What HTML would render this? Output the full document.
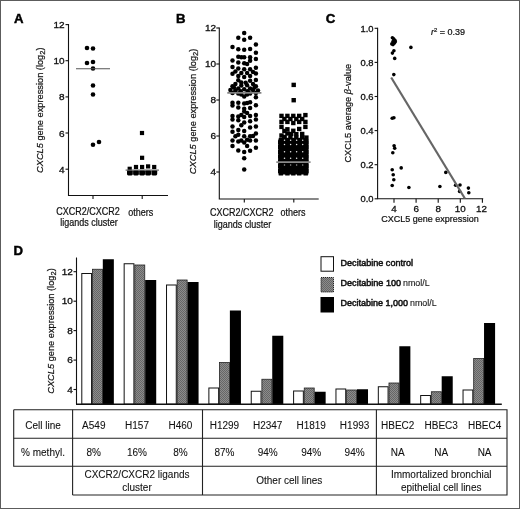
<!DOCTYPE html>
<html><head><meta charset="utf-8"><title>CXCL5 figure</title>
<style>
html,body{margin:0;padding:0;background:#fff;}
body{width:520px;height:509px;overflow:hidden;}
svg{display:block;font-family:"Liberation Sans", Arial, Helvetica, sans-serif;}
text{fill:#111;stroke:#111;stroke-width:0.22px;}
.t9{font-size:9px;}
.lg{font-size:9.1px;}
.t10{font-size:10px;stroke-width:0.08px;}
.t93{font-size:9.3px;}
.t102{font-size:9.8px;}
.t99{font-size:10.3px;}
.tk{font-size:9.1px;stroke-width:0.32px;}
.pl{font-size:13.2px;font-weight:bold;fill:#000;stroke:#000;stroke-width:0.45px;}
.ax{stroke:#111;stroke-width:1.1;fill:none;}
.it{font-style:italic;}
</style></head><body>
<svg width="520" height="509" viewBox="0 0 520 509">
<defs>
<pattern id="stip" width="2" height="2" patternUnits="userSpaceOnUse">
<rect width="2" height="2" fill="#8c8c8c"/><rect width="1" height="1" fill="#666"/><rect x="1" y="1" width="1" height="1" fill="#666"/>
</pattern>
</defs>
<rect x="0" y="0" width="520" height="509" fill="#fff"/>
<rect x="0.5" y="0.5" width="519" height="508" fill="none" stroke="#5c5c5c" stroke-width="1"/>

<text x="13.9" y="22.9" class="pl" text-anchor="start" >A</text>
<path class="ax" d="M68.5,24.060000000000002 V195.5 H168"/>
<path class="ax" d="M65.5,24.6 H68.5"/>
<text transform="translate(64.60,28.16) scale(1.1,1)" class="tk" style="font-size:9.1px" text-anchor="end">12</text>
<path class="ax" d="M65.5,60.7 H68.5"/>
<text transform="translate(64.60,64.32) scale(1.1,1)" class="tk" style="font-size:9.1px" text-anchor="end">10</text>
<path class="ax" d="M65.5,96.9 H68.5"/>
<text transform="translate(64.60,100.48) scale(1.1,1)" class="tk" style="font-size:9.1px" text-anchor="end">8</text>
<path class="ax" d="M65.5,133.0 H68.5"/>
<text transform="translate(64.60,136.64) scale(1.1,1)" class="tk" style="font-size:9.1px" text-anchor="end">6</text>
<path class="ax" d="M65.5,169.2 H68.5"/>
<text transform="translate(64.60,172.80) scale(1.1,1)" class="tk" style="font-size:9.1px" text-anchor="end">4</text>
<path class="ax" d="M93,195.5 v3.5"/>
<path class="ax" d="M142.2,195.5 v3.5"/>
<text transform="translate(43.2,110.2) rotate(-90) scale(0.945,1)" class="t102" text-anchor="middle"><tspan class="it">CXCL5</tspan> gene expression (log<tspan font-size="8" dy="2">2</tspan><tspan dy="-2">)</tspan></text>
<circle cx="87.0" cy="48.0" r="2.3" fill="#000"/>
<circle cx="93.0" cy="48.5" r="2.3" fill="#000"/>
<circle cx="87.0" cy="63.0" r="2.3" fill="#000"/>
<circle cx="93.0" cy="62.0" r="2.3" fill="#000"/>
<circle cx="93.0" cy="68.5" r="2.3" fill="#000"/>
<circle cx="93.0" cy="85.5" r="2.3" fill="#000"/>
<circle cx="93.0" cy="94.5" r="2.3" fill="#000"/>
<circle cx="93.0" cy="144.8" r="2.3" fill="#000"/>
<circle cx="99.0" cy="142.0" r="2.3" fill="#000"/>
<path d="M76,68.75 H110" stroke="#555" stroke-width="1.1"/>
<rect x="139.9" y="130.9" width="4.2" height="4.2" fill="#000"/>
<rect x="140.0" y="155.7" width="4.2" height="4.2" fill="#000"/>
<rect x="133.9" y="164.9" width="4.2" height="4.2" fill="#000"/>
<rect x="140.0" y="164.9" width="4.2" height="4.2" fill="#000"/>
<rect x="146.0" y="164.3" width="4.2" height="4.2" fill="#000"/>
<rect x="152.1" y="164.9" width="4.2" height="4.2" fill="#000"/>
<rect x="127.6" y="166.7" width="4.2" height="4.2" fill="#000"/>
<rect x="127.0" y="170" width="5.8" height="5.4" rx="1.3" fill="#000"/>
<rect x="133.1" y="170" width="5.8" height="5.4" rx="1.3" fill="#000"/>
<rect x="139.2" y="170" width="5.8" height="5.4" rx="1.3" fill="#000"/>
<rect x="145.2" y="170" width="5.8" height="5.4" rx="1.3" fill="#000"/>
<rect x="151.4" y="170" width="5.8" height="5.4" rx="1.3" fill="#000"/>
<path d="M125.6,170.1 H158.9" stroke="#666" stroke-width="1.1"/>
<text transform="translate(88,214.80) scale(0.875,1)" class="t99" style="font-size:10.3px" text-anchor="middle">CXCR2/CXCR2</text>
<text transform="translate(89,226.10) scale(0.875,1)" class="t99" style="font-size:10.3px" text-anchor="middle">ligands cluster</text>
<text transform="translate(140.8,215.70) scale(0.875,1)" class="t99" style="font-size:10.3px" text-anchor="middle">others</text>
<text x="176.1" y="22.6" class="pl" text-anchor="start" >B</text>
<path class="ax" d="M219.3,27.5 V199 H318.7"/>
<path class="ax" d="M216.3,28.0 H219.3"/>
<text transform="translate(216.10,31.40) scale(1.1,1)" class="tk" style="font-size:9.1px" text-anchor="end">12</text>
<path class="ax" d="M216.3,64.0 H219.3"/>
<text transform="translate(216.10,67.40) scale(1.1,1)" class="tk" style="font-size:9.1px" text-anchor="end">10</text>
<path class="ax" d="M216.3,100.0 H219.3"/>
<text transform="translate(216.10,103.40) scale(1.1,1)" class="tk" style="font-size:9.1px" text-anchor="end">8</text>
<path class="ax" d="M216.3,136.0 H219.3"/>
<text transform="translate(216.10,139.40) scale(1.1,1)" class="tk" style="font-size:9.1px" text-anchor="end">6</text>
<path class="ax" d="M216.3,172.0 H219.3"/>
<text transform="translate(216.10,175.40) scale(1.1,1)" class="tk" style="font-size:9.1px" text-anchor="end">4</text>
<path class="ax" d="M244.3,199 v3.5"/>
<path class="ax" d="M293.8,199 v3.5"/>
<text transform="translate(195.7,111.4) rotate(-90) scale(0.945,1)" class="t102" text-anchor="middle"><tspan class="it">CXCL5</tspan> gene expression (log<tspan font-size="8" dy="2">2</tspan><tspan dy="-2">)</tspan></text>
<circle cx="244.2" cy="33.1" r="2.25" fill="#000"/>
<circle cx="238.3" cy="37.8" r="2.25" fill="#000"/>
<circle cx="250.1" cy="37.8" r="2.25" fill="#000"/>
<circle cx="244.2" cy="39.7" r="2.25" fill="#000"/>
<circle cx="255.9" cy="44.5" r="2.25" fill="#000"/>
<circle cx="232.5" cy="47.1" r="2.25" fill="#000"/>
<circle cx="238.3" cy="49.3" r="2.25" fill="#000"/>
<circle cx="244.2" cy="49.8" r="2.25" fill="#000"/>
<circle cx="250.1" cy="48.9" r="2.25" fill="#000"/>
<circle cx="255.9" cy="52.7" r="2.25" fill="#000"/>
<circle cx="238.3" cy="56.7" r="2.25" fill="#000"/>
<circle cx="241.3" cy="57.2" r="2.25" fill="#000"/>
<circle cx="244.2" cy="57.2" r="2.25" fill="#000"/>
<circle cx="250.1" cy="57.2" r="2.25" fill="#000"/>
<circle cx="255.9" cy="58.9" r="2.25" fill="#000"/>
<circle cx="232.5" cy="60.4" r="2.25" fill="#000"/>
<circle cx="250.1" cy="60.7" r="2.25" fill="#000"/>
<circle cx="238.3" cy="62.6" r="2.25" fill="#000"/>
<circle cx="244.2" cy="63.3" r="2.25" fill="#000"/>
<circle cx="247.1" cy="64.1" r="2.25" fill="#000"/>
<circle cx="232.5" cy="67.0" r="2.25" fill="#000"/>
<circle cx="255.9" cy="67.8" r="2.25" fill="#000"/>
<circle cx="238.3" cy="68.5" r="2.25" fill="#000"/>
<circle cx="244.2" cy="69.2" r="2.25" fill="#000"/>
<circle cx="250.1" cy="69.2" r="2.25" fill="#000"/>
<circle cx="235.4" cy="71.5" r="2.25" fill="#000"/>
<circle cx="253.0" cy="71.9" r="2.25" fill="#000"/>
<circle cx="232.5" cy="73.7" r="2.25" fill="#000"/>
<circle cx="241.3" cy="72.9" r="2.25" fill="#000"/>
<circle cx="247.1" cy="72.9" r="2.25" fill="#000"/>
<circle cx="255.9" cy="73.4" r="2.25" fill="#000"/>
<circle cx="238.3" cy="75.9" r="2.25" fill="#000"/>
<circle cx="250.1" cy="75.9" r="2.25" fill="#000"/>
<circle cx="244.2" cy="76.9" r="2.25" fill="#000"/>
<circle cx="238.3" cy="80.3" r="2.25" fill="#000"/>
<circle cx="255.9" cy="79.9" r="2.25" fill="#000"/>
<circle cx="250.1" cy="80.8" r="2.25" fill="#000"/>
<circle cx="241.3" cy="82.5" r="2.25" fill="#000"/>
<circle cx="245.7" cy="82.8" r="2.25" fill="#000"/>
<circle cx="235.4" cy="84.0" r="2.25" fill="#000"/>
<circle cx="253.0" cy="84.0" r="2.25" fill="#000"/>
<circle cx="232.5" cy="86.2" r="2.25" fill="#000"/>
<circle cx="241.3" cy="85.5" r="2.25" fill="#000"/>
<circle cx="255.9" cy="86.2" r="2.25" fill="#000"/>
<circle cx="247.1" cy="85.2" r="2.25" fill="#000"/>
<circle cx="238.3" cy="88.4" r="2.25" fill="#000"/>
<circle cx="244.2" cy="89.2" r="2.25" fill="#000"/>
<circle cx="250.1" cy="88.4" r="2.25" fill="#000"/>
<circle cx="230.4" cy="89.9" r="2.25" fill="#000"/>
<circle cx="235.4" cy="90.6" r="2.25" fill="#000"/>
<circle cx="253.0" cy="89.9" r="2.25" fill="#000"/>
<circle cx="258.0" cy="90.6" r="2.25" fill="#000"/>
<circle cx="232.5" cy="93.1" r="2.25" fill="#000"/>
<circle cx="238.3" cy="93.6" r="2.25" fill="#000"/>
<circle cx="250.1" cy="93.6" r="2.25" fill="#000"/>
<circle cx="255.9" cy="93.1" r="2.25" fill="#000"/>
<circle cx="233.9" cy="87.6" r="2.25" fill="#000"/>
<circle cx="254.5" cy="87.4" r="2.25" fill="#000"/>
<circle cx="240.7" cy="91.3" r="2.25" fill="#000"/>
<circle cx="247.7" cy="91.3" r="2.25" fill="#000"/>
<circle cx="244.2" cy="96.5" r="2.25" fill="#000"/>
<circle cx="255.9" cy="97.3" r="2.25" fill="#000"/>
<circle cx="241.3" cy="94.5" r="2.25" fill="#000"/>
<circle cx="247.1" cy="94.5" r="2.25" fill="#000"/>
<circle cx="232.5" cy="102.7" r="2.25" fill="#000"/>
<circle cx="238.3" cy="102.7" r="2.25" fill="#000"/>
<circle cx="244.2" cy="103.5" r="2.25" fill="#000"/>
<circle cx="247.1" cy="103.0" r="2.25" fill="#000"/>
<circle cx="250.1" cy="102.3" r="2.25" fill="#000"/>
<circle cx="255.9" cy="105.3" r="2.25" fill="#000"/>
<circle cx="232.5" cy="105.5" r="2.25" fill="#000"/>
<circle cx="238.3" cy="107.6" r="2.25" fill="#000"/>
<circle cx="244.2" cy="108.8" r="2.25" fill="#000"/>
<circle cx="250.1" cy="108.0" r="2.25" fill="#000"/>
<circle cx="244.2" cy="111.5" r="2.25" fill="#000"/>
<circle cx="247.1" cy="112.9" r="2.25" fill="#000"/>
<circle cx="232.5" cy="115.9" r="2.25" fill="#000"/>
<circle cx="238.3" cy="116.4" r="2.25" fill="#000"/>
<circle cx="241.3" cy="115.0" r="2.25" fill="#000"/>
<circle cx="244.2" cy="116.9" r="2.25" fill="#000"/>
<circle cx="250.1" cy="115.9" r="2.25" fill="#000"/>
<circle cx="255.9" cy="115.0" r="2.25" fill="#000"/>
<circle cx="232.5" cy="119.4" r="2.25" fill="#000"/>
<circle cx="238.3" cy="120.3" r="2.25" fill="#000"/>
<circle cx="250.1" cy="121.2" r="2.25" fill="#000"/>
<circle cx="255.9" cy="119.4" r="2.25" fill="#000"/>
<circle cx="244.2" cy="122.4" r="2.25" fill="#000"/>
<circle cx="241.3" cy="125.3" r="2.25" fill="#000"/>
<circle cx="232.5" cy="126.5" r="2.25" fill="#000"/>
<circle cx="250.1" cy="127.4" r="2.25" fill="#000"/>
<circle cx="255.9" cy="126.5" r="2.25" fill="#000"/>
<circle cx="238.3" cy="130.0" r="2.25" fill="#000"/>
<circle cx="244.2" cy="130.9" r="2.25" fill="#000"/>
<circle cx="232.5" cy="131.8" r="2.25" fill="#000"/>
<circle cx="255.9" cy="133.6" r="2.25" fill="#000"/>
<circle cx="235.4" cy="136.2" r="2.25" fill="#000"/>
<circle cx="238.3" cy="134.8" r="2.25" fill="#000"/>
<circle cx="244.2" cy="136.2" r="2.25" fill="#000"/>
<circle cx="250.1" cy="136.2" r="2.25" fill="#000"/>
<circle cx="253.0" cy="135.9" r="2.25" fill="#000"/>
<circle cx="232.5" cy="140.6" r="2.25" fill="#000"/>
<circle cx="238.3" cy="141.5" r="2.25" fill="#000"/>
<circle cx="241.3" cy="140.6" r="2.25" fill="#000"/>
<circle cx="244.2" cy="142.4" r="2.25" fill="#000"/>
<circle cx="247.1" cy="139.8" r="2.25" fill="#000"/>
<circle cx="250.1" cy="140.6" r="2.25" fill="#000"/>
<circle cx="255.9" cy="140.6" r="2.25" fill="#000"/>
<circle cx="232.5" cy="145.9" r="2.25" fill="#000"/>
<circle cx="247.1" cy="145.9" r="2.25" fill="#000"/>
<circle cx="255.9" cy="147.7" r="2.25" fill="#000"/>
<circle cx="238.3" cy="150.4" r="2.25" fill="#000"/>
<circle cx="250.1" cy="150.7" r="2.25" fill="#000"/>
<circle cx="244.2" cy="152.1" r="2.25" fill="#000"/>
<circle cx="244.2" cy="158.3" r="2.25" fill="#000"/>
<circle cx="244.2" cy="169.5" r="2.25" fill="#000"/>
<path d="M227.3,92.8 H261.4" stroke="#808080" stroke-width="1.8"/>
<rect x="291.5" y="82.7" width="4.4" height="4.4" fill="#000"/>
<rect x="291.5" y="98.0" width="4.4" height="4.4" fill="#000"/>
<rect x="279.3" y="113.7" width="4.4" height="4.4" fill="#000"/>
<rect x="285.2" y="113.7" width="4.4" height="4.4" fill="#000"/>
<rect x="291.1" y="113.7" width="4.4" height="4.4" fill="#000"/>
<rect x="297.0" y="113.7" width="4.4" height="4.4" fill="#000"/>
<rect x="303.2" y="112.9" width="4.4" height="4.4" fill="#000"/>
<rect x="282.2" y="116.8" width="4.4" height="4.4" fill="#000"/>
<rect x="288.2" y="116.8" width="4.4" height="4.4" fill="#000"/>
<rect x="294.1" y="116.8" width="4.4" height="4.4" fill="#000"/>
<rect x="300.0" y="116.8" width="4.4" height="4.4" fill="#000"/>
<rect x="279.3" y="119.7" width="4.4" height="4.4" fill="#000"/>
<rect x="285.2" y="119.7" width="4.4" height="4.4" fill="#000"/>
<rect x="297.0" y="119.7" width="4.4" height="4.4" fill="#000"/>
<rect x="303.2" y="119.7" width="4.4" height="4.4" fill="#000"/>
<rect x="291.1" y="120.8" width="4.4" height="4.4" fill="#000"/>
<rect x="279.3" y="124.7" width="4.4" height="4.4" fill="#000"/>
<rect x="303.2" y="124.7" width="4.4" height="4.4" fill="#000"/>
<rect x="285.2" y="127.1" width="4.4" height="4.4" fill="#000"/>
<rect x="297.0" y="126.8" width="4.4" height="4.4" fill="#000"/>
<rect x="282.2" y="128.8" width="4.4" height="4.4" fill="#000"/>
<rect x="291.1" y="128.6" width="4.4" height="4.4" fill="#000"/>
<rect x="285.2" y="131.3" width="4.4" height="4.4" fill="#000"/>
<rect x="289.0" y="131.8" width="4.4" height="4.4" fill="#000"/>
<rect x="294.1" y="132.0" width="4.4" height="4.4" fill="#000"/>
<rect x="300.0" y="131.8" width="4.4" height="4.4" fill="#000"/>
<rect x="279.3" y="133.3" width="4.4" height="4.4" fill="#000"/>
<rect x="282.2" y="134.8" width="4.4" height="4.4" fill="#000"/>
<rect x="282.2" y="135.4" width="4.4" height="4.4" fill="#000"/>
<rect x="288.2" y="135.4" width="4.4" height="4.4" fill="#000"/>
<rect x="294.1" y="135.4" width="4.4" height="4.4" fill="#000"/>
<rect x="300.0" y="135.4" width="4.4" height="4.4" fill="#000"/>
<rect x="304.2" y="135.4" width="4.4" height="4.4" fill="#000"/>
<rect x="278.7" y="137.8" width="4.4" height="4.4" fill="#000"/>
<rect x="285.2" y="137.8" width="4.4" height="4.4" fill="#000"/>
<rect x="291.1" y="137.8" width="4.4" height="4.4" fill="#000"/>
<rect x="297.0" y="137.8" width="4.4" height="4.4" fill="#000"/>
<rect x="303.5" y="137.8" width="4.4" height="4.4" fill="#000"/>
<rect x="278.0" y="140.2" width="4.4" height="4.4" fill="#000"/>
<rect x="282.2" y="140.2" width="4.4" height="4.4" fill="#000"/>
<rect x="288.2" y="140.2" width="4.4" height="4.4" fill="#000"/>
<rect x="294.1" y="140.2" width="4.4" height="4.4" fill="#000"/>
<rect x="300.0" y="140.2" width="4.4" height="4.4" fill="#000"/>
<rect x="304.2" y="140.2" width="4.4" height="4.4" fill="#000"/>
<rect x="278.7" y="142.5" width="4.4" height="4.4" fill="#000"/>
<rect x="285.2" y="142.5" width="4.4" height="4.4" fill="#000"/>
<rect x="291.1" y="142.5" width="4.4" height="4.4" fill="#000"/>
<rect x="297.0" y="142.5" width="4.4" height="4.4" fill="#000"/>
<rect x="303.5" y="142.5" width="4.4" height="4.4" fill="#000"/>
<rect x="278.0" y="144.9" width="4.4" height="4.4" fill="#000"/>
<rect x="282.2" y="144.9" width="4.4" height="4.4" fill="#000"/>
<rect x="288.2" y="144.9" width="4.4" height="4.4" fill="#000"/>
<rect x="294.1" y="144.9" width="4.4" height="4.4" fill="#000"/>
<rect x="300.0" y="144.9" width="4.4" height="4.4" fill="#000"/>
<rect x="304.2" y="144.9" width="4.4" height="4.4" fill="#000"/>
<rect x="278.7" y="147.3" width="4.4" height="4.4" fill="#000"/>
<rect x="285.2" y="147.3" width="4.4" height="4.4" fill="#000"/>
<rect x="291.1" y="147.3" width="4.4" height="4.4" fill="#000"/>
<rect x="297.0" y="147.3" width="4.4" height="4.4" fill="#000"/>
<rect x="303.5" y="147.3" width="4.4" height="4.4" fill="#000"/>
<rect x="278.0" y="149.7" width="4.4" height="4.4" fill="#000"/>
<rect x="282.2" y="149.7" width="4.4" height="4.4" fill="#000"/>
<rect x="288.2" y="149.7" width="4.4" height="4.4" fill="#000"/>
<rect x="294.1" y="149.7" width="4.4" height="4.4" fill="#000"/>
<rect x="300.0" y="149.7" width="4.4" height="4.4" fill="#000"/>
<rect x="304.2" y="149.7" width="4.4" height="4.4" fill="#000"/>
<rect x="278.7" y="152.1" width="4.4" height="4.4" fill="#000"/>
<rect x="285.2" y="152.1" width="4.4" height="4.4" fill="#000"/>
<rect x="291.1" y="152.1" width="4.4" height="4.4" fill="#000"/>
<rect x="297.0" y="152.1" width="4.4" height="4.4" fill="#000"/>
<rect x="303.5" y="152.1" width="4.4" height="4.4" fill="#000"/>
<rect x="278.0" y="154.4" width="4.4" height="4.4" fill="#000"/>
<rect x="282.2" y="154.4" width="4.4" height="4.4" fill="#000"/>
<rect x="288.2" y="154.4" width="4.4" height="4.4" fill="#000"/>
<rect x="294.1" y="154.4" width="4.4" height="4.4" fill="#000"/>
<rect x="300.0" y="154.4" width="4.4" height="4.4" fill="#000"/>
<rect x="304.2" y="154.4" width="4.4" height="4.4" fill="#000"/>
<rect x="278.7" y="156.8" width="4.4" height="4.4" fill="#000"/>
<rect x="285.2" y="156.8" width="4.4" height="4.4" fill="#000"/>
<rect x="291.1" y="156.8" width="4.4" height="4.4" fill="#000"/>
<rect x="297.0" y="156.8" width="4.4" height="4.4" fill="#000"/>
<rect x="303.5" y="156.8" width="4.4" height="4.4" fill="#000"/>
<rect x="278.0" y="159.2" width="4.4" height="4.4" fill="#000"/>
<rect x="282.2" y="159.2" width="4.4" height="4.4" fill="#000"/>
<rect x="288.2" y="159.2" width="4.4" height="4.4" fill="#000"/>
<rect x="294.1" y="159.2" width="4.4" height="4.4" fill="#000"/>
<rect x="300.0" y="159.2" width="4.4" height="4.4" fill="#000"/>
<rect x="304.2" y="159.2" width="4.4" height="4.4" fill="#000"/>
<rect x="278.7" y="161.6" width="4.4" height="4.4" fill="#000"/>
<rect x="285.2" y="161.6" width="4.4" height="4.4" fill="#000"/>
<rect x="291.1" y="161.6" width="4.4" height="4.4" fill="#000"/>
<rect x="297.0" y="161.6" width="4.4" height="4.4" fill="#000"/>
<rect x="303.5" y="161.6" width="4.4" height="4.4" fill="#000"/>
<rect x="278.0" y="164.0" width="4.4" height="4.4" fill="#000"/>
<rect x="282.2" y="164.0" width="4.4" height="4.4" fill="#000"/>
<rect x="288.2" y="164.0" width="4.4" height="4.4" fill="#000"/>
<rect x="294.1" y="164.0" width="4.4" height="4.4" fill="#000"/>
<rect x="300.0" y="164.0" width="4.4" height="4.4" fill="#000"/>
<rect x="304.2" y="164.0" width="4.4" height="4.4" fill="#000"/>
<rect x="278.7" y="166.3" width="4.4" height="4.4" fill="#000"/>
<rect x="285.2" y="166.3" width="4.4" height="4.4" fill="#000"/>
<rect x="291.1" y="166.3" width="4.4" height="4.4" fill="#000"/>
<rect x="297.0" y="166.3" width="4.4" height="4.4" fill="#000"/>
<rect x="303.5" y="166.3" width="4.4" height="4.4" fill="#000"/>
<rect x="278.0" y="168.7" width="4.4" height="4.4" fill="#000"/>
<rect x="282.2" y="168.7" width="4.4" height="4.4" fill="#000"/>
<rect x="288.2" y="168.7" width="4.4" height="4.4" fill="#000"/>
<rect x="294.1" y="168.7" width="4.4" height="4.4" fill="#000"/>
<rect x="300.0" y="168.7" width="4.4" height="4.4" fill="#000"/>
<rect x="304.2" y="168.7" width="4.4" height="4.4" fill="#000"/>
<rect x="278.7" y="171.1" width="4.4" height="4.4" fill="#000"/>
<rect x="285.2" y="171.1" width="4.4" height="4.4" fill="#000"/>
<rect x="291.1" y="171.1" width="4.4" height="4.4" fill="#000"/>
<rect x="297.0" y="171.1" width="4.4" height="4.4" fill="#000"/>
<rect x="303.5" y="171.1" width="4.4" height="4.4" fill="#000"/>
<rect x="278.6" y="139" width="29.8" height="35.5" fill="#000"/>
<circle cx="284.5" cy="140.2" r="0.75" fill="#fff" fill-opacity="0.9"/>
<circle cx="290.6" cy="140.2" r="0.75" fill="#fff" fill-opacity="0.9"/>
<circle cx="296.6" cy="140.2" r="0.75" fill="#fff" fill-opacity="0.9"/>
<circle cx="302.7" cy="140.2" r="0.75" fill="#fff" fill-opacity="0.9"/>
<circle cx="284.5" cy="144.6" r="0.75" fill="#fff" fill-opacity="0.9"/>
<circle cx="290.6" cy="144.6" r="0.75" fill="#fff" fill-opacity="0.9"/>
<circle cx="296.6" cy="144.6" r="0.75" fill="#fff" fill-opacity="0.9"/>
<circle cx="302.7" cy="144.6" r="0.75" fill="#fff" fill-opacity="0.9"/>
<circle cx="284.5" cy="151.8" r="0.75" fill="#fff" fill-opacity="0.9"/>
<circle cx="290.6" cy="151.8" r="0.75" fill="#fff" fill-opacity="0.9"/>
<circle cx="296.6" cy="151.8" r="0.75" fill="#fff" fill-opacity="0.9"/>
<circle cx="302.7" cy="151.8" r="0.75" fill="#fff" fill-opacity="0.9"/>
<circle cx="284.5" cy="158.3" r="0.75" fill="#fff" fill-opacity="0.9"/>
<circle cx="290.6" cy="158.3" r="0.75" fill="#fff" fill-opacity="0.9"/>
<circle cx="296.6" cy="158.3" r="0.75" fill="#fff" fill-opacity="0.9"/>
<circle cx="302.7" cy="158.3" r="0.75" fill="#fff" fill-opacity="0.9"/>
<circle cx="284.5" cy="164.9" r="0.75" fill="#fff" fill-opacity="0.6"/>
<circle cx="290.6" cy="164.9" r="0.75" fill="#fff" fill-opacity="0.6"/>
<circle cx="296.6" cy="164.9" r="0.75" fill="#fff" fill-opacity="0.6"/>
<circle cx="302.7" cy="164.9" r="0.75" fill="#fff" fill-opacity="0.6"/>
<path d="M276.3,162.2 H310.6" stroke="#8a8a8a" stroke-width="1.7"/>
<text transform="translate(241.8,216.40) scale(0.875,1)" class="t99" style="font-size:10.3px" text-anchor="middle">CXCR2/CXCR2</text>
<text transform="translate(242.5,227.90) scale(0.875,1)" class="t99" style="font-size:10.3px" text-anchor="middle">ligands cluster</text>
<text transform="translate(293,216.40) scale(0.875,1)" class="t99" style="font-size:10.3px" text-anchor="middle">others</text>
<text x="325.8" y="22.5" class="pl" text-anchor="start" >C</text>
<path class="ax" d="M377.6,27.80000000000001 V198.8 H483.2"/>
<path class="ax" d="M374.6,28.3 H377.6"/>
<text transform="translate(373.60,31.70) scale(1,1)" class="tk" style="font-size:9.4px" text-anchor="end">1.0</text>
<path class="ax" d="M374.6,62.4 H377.6"/>
<text transform="translate(373.60,65.80) scale(1,1)" class="tk" style="font-size:9.4px" text-anchor="end">0.8</text>
<path class="ax" d="M374.6,96.5 H377.6"/>
<text transform="translate(373.60,99.90) scale(1,1)" class="tk" style="font-size:9.4px" text-anchor="end">0.6</text>
<path class="ax" d="M374.6,130.6 H377.6"/>
<text transform="translate(373.60,134.00) scale(1,1)" class="tk" style="font-size:9.4px" text-anchor="end">0.4</text>
<path class="ax" d="M374.6,164.7 H377.6"/>
<text transform="translate(373.60,168.10) scale(1,1)" class="tk" style="font-size:9.4px" text-anchor="end">0.2</text>
<path class="ax" d="M374.6,198.8 H377.6"/>
<text transform="translate(373.60,202.20) scale(1,1)" class="tk" style="font-size:9.4px" text-anchor="end">0.0</text>
<path class="ax" d="M394.0,198.8 v3.9"/>
<text transform="translate(394.00,212.20) scale(1,1)" class="tk" style="font-size:9.8px" text-anchor="middle">4</text>
<path class="ax" d="M416.1,198.8 v3.9"/>
<text transform="translate(416.10,212.20) scale(1,1)" class="tk" style="font-size:9.8px" text-anchor="middle">6</text>
<path class="ax" d="M438.2,198.8 v3.9"/>
<text transform="translate(438.20,212.20) scale(1,1)" class="tk" style="font-size:9.8px" text-anchor="middle">8</text>
<path class="ax" d="M460.3,198.8 v3.9"/>
<text transform="translate(460.30,212.20) scale(1,1)" class="tk" style="font-size:9.8px" text-anchor="middle">10</text>
<path class="ax" d="M482.4,198.8 v3.9"/>
<text transform="translate(481.40,212.20) scale(1,1)" class="tk" style="font-size:9.8px" text-anchor="middle">12</text>
<text transform="translate(430,222.20) scale(0.92,1)" class="t99" style="font-size:9.8px" text-anchor="middle">CXCL5 gene expression</text>
<text transform="translate(351,113.2) rotate(-90) scale(0.945,1)" class="t102" text-anchor="middle">CXCL5 average <tspan class="it">β</tspan>-value</text>
<text x="431" y="35" class="t9" text-anchor="start" ><tspan class="it">r</tspan><tspan font-size="6" dy="-3">2</tspan><tspan dy="3"> = 0.39</tspan></text>
<circle cx="392.4" cy="37.7" r="1.8" fill="#000"/>
<circle cx="393.6" cy="38.8" r="1.8" fill="#000"/>
<circle cx="394.9" cy="40.3" r="1.8" fill="#000"/>
<circle cx="393.0" cy="41.5" r="1.8" fill="#000"/>
<circle cx="395.3" cy="41.8" r="1.8" fill="#000"/>
<circle cx="391.8" cy="43.9" r="1.8" fill="#000"/>
<circle cx="394.2" cy="43.3" r="1.8" fill="#000"/>
<circle cx="393.0" cy="44.6" r="1.8" fill="#000"/>
<circle cx="410.9" cy="47.4" r="1.8" fill="#000"/>
<circle cx="393.9" cy="50.7" r="1.8" fill="#000"/>
<circle cx="392.4" cy="53.1" r="1.8" fill="#000"/>
<circle cx="394.7" cy="58.4" r="1.8" fill="#000"/>
<circle cx="393.8" cy="74.6" r="1.8" fill="#000"/>
<circle cx="392.2" cy="118.2" r="1.8" fill="#000"/>
<circle cx="393.9" cy="117.8" r="1.8" fill="#000"/>
<circle cx="394.1" cy="145.7" r="1.8" fill="#000"/>
<circle cx="394.7" cy="148.2" r="1.8" fill="#000"/>
<circle cx="392.8" cy="152.7" r="1.8" fill="#000"/>
<circle cx="392.2" cy="169.8" r="1.8" fill="#000"/>
<circle cx="401.2" cy="167.9" r="1.8" fill="#000"/>
<circle cx="393.2" cy="174.7" r="1.8" fill="#000"/>
<circle cx="393.8" cy="179.7" r="1.8" fill="#000"/>
<circle cx="392.2" cy="185.5" r="1.8" fill="#000"/>
<circle cx="408.9" cy="187.5" r="1.8" fill="#000"/>
<circle cx="439.9" cy="186.5" r="1.8" fill="#000"/>
<circle cx="445.8" cy="172.4" r="1.8" fill="#000"/>
<circle cx="455.6" cy="185.2" r="1.8" fill="#000"/>
<circle cx="460.0" cy="185.0" r="1.8" fill="#000"/>
<circle cx="459.6" cy="191.4" r="1.8" fill="#000"/>
<circle cx="468.4" cy="188.1" r="1.8" fill="#000"/>
<circle cx="468.8" cy="192.8" r="1.8" fill="#000"/>
<path d="M391.2,77.5 L464.9,198.5" stroke="#666" stroke-width="2.2"/>
<text x="13.5" y="254.6" class="pl" text-anchor="start" >D</text>
<path class="ax" d="M76.5,257.5 V404.2"/>
<path class="ax" d="M73.5,271.7 H76.5"/>
<text transform="translate(72.90,275.04) scale(1.1,1)" class="tk" style="font-size:9.1px" text-anchor="end">12</text>
<path class="ax" d="M73.5,301.2 H76.5"/>
<text transform="translate(72.90,304.48) scale(1.1,1)" class="tk" style="font-size:9.1px" text-anchor="end">10</text>
<path class="ax" d="M73.5,330.6 H76.5"/>
<text transform="translate(72.90,333.92) scale(1.1,1)" class="tk" style="font-size:9.1px" text-anchor="end">8</text>
<path class="ax" d="M73.5,360.1 H76.5"/>
<text transform="translate(72.90,363.36) scale(1.1,1)" class="tk" style="font-size:9.1px" text-anchor="end">6</text>
<path class="ax" d="M73.5,389.5 H76.5"/>
<text transform="translate(72.90,392.80) scale(1.1,1)" class="tk" style="font-size:9.1px" text-anchor="end">4</text>
<text transform="translate(53.9,331) rotate(-90) scale(0.945,1)" class="t102" text-anchor="middle"><tspan class="it">CXCL5</tspan> gene expression (log<tspan font-size="8" dy="2">2</tspan><tspan dy="-2">)</tspan></text>
<rect x="81.80" y="273.50" width="9.75" height="130.70" fill="#fff" stroke="#111" stroke-width="1"/>
<rect x="92.45" y="269.25" width="9.95" height="134.95" fill="url(#stip)" stroke="#222" stroke-width="0.8"/>
<rect x="102.80" y="259.25" width="11.05" height="144.95" fill="#000"/>
<rect x="124.16" y="263.75" width="9.75" height="140.45" fill="#fff" stroke="#111" stroke-width="1"/>
<rect x="134.81" y="265.00" width="9.95" height="139.20" fill="url(#stip)" stroke="#222" stroke-width="0.8"/>
<rect x="145.16" y="280.00" width="11.05" height="124.20" fill="#000"/>
<rect x="166.52" y="285.00" width="9.75" height="119.20" fill="#fff" stroke="#111" stroke-width="1"/>
<rect x="177.17" y="280.00" width="9.95" height="124.20" fill="url(#stip)" stroke="#222" stroke-width="0.8"/>
<rect x="187.52" y="282.00" width="11.05" height="122.20" fill="#000"/>
<rect x="208.88" y="388.00" width="9.75" height="16.20" fill="#fff" stroke="#111" stroke-width="1"/>
<rect x="219.53" y="362.50" width="9.95" height="41.70" fill="url(#stip)" stroke="#222" stroke-width="0.8"/>
<rect x="229.88" y="310.50" width="11.05" height="93.70" fill="#000"/>
<rect x="251.24" y="391.25" width="9.75" height="12.95" fill="#fff" stroke="#111" stroke-width="1"/>
<rect x="261.89" y="379.25" width="9.95" height="24.95" fill="url(#stip)" stroke="#222" stroke-width="0.8"/>
<rect x="272.24" y="335.75" width="11.05" height="68.45" fill="#000"/>
<rect x="293.60" y="391.00" width="9.75" height="13.20" fill="#fff" stroke="#111" stroke-width="1"/>
<rect x="304.25" y="388.00" width="9.95" height="16.20" fill="url(#stip)" stroke="#222" stroke-width="0.8"/>
<rect x="314.60" y="391.75" width="11.05" height="12.45" fill="#000"/>
<rect x="335.96" y="389.00" width="9.75" height="15.20" fill="#fff" stroke="#111" stroke-width="1"/>
<rect x="346.61" y="390.00" width="9.95" height="14.20" fill="url(#stip)" stroke="#222" stroke-width="0.8"/>
<rect x="356.96" y="389.25" width="11.05" height="14.95" fill="#000"/>
<rect x="378.32" y="386.75" width="9.75" height="17.45" fill="#fff" stroke="#111" stroke-width="1"/>
<rect x="388.97" y="383.00" width="9.95" height="21.20" fill="url(#stip)" stroke="#222" stroke-width="0.8"/>
<rect x="399.32" y="346.25" width="11.05" height="57.95" fill="#000"/>
<rect x="420.68" y="395.50" width="9.75" height="8.70" fill="#fff" stroke="#111" stroke-width="1"/>
<rect x="431.33" y="391.75" width="9.95" height="12.45" fill="url(#stip)" stroke="#222" stroke-width="0.8"/>
<rect x="441.68" y="376.25" width="11.05" height="27.95" fill="#000"/>
<rect x="463.04" y="390.00" width="9.75" height="14.20" fill="#fff" stroke="#111" stroke-width="1"/>
<rect x="473.69" y="358.50" width="9.95" height="45.70" fill="url(#stip)" stroke="#222" stroke-width="0.8"/>
<rect x="484.04" y="323.00" width="11.05" height="81.20" fill="#000"/>
<path d="M76.0,404.2 H501.8" stroke="#111" stroke-width="1.5" fill="none"/>
<rect x="321" y="256.7" width="12.5" height="14.5" fill="#fff" stroke="#111" stroke-width="1"/>
<rect x="321" y="277.5" width="12.5" height="14.5" fill="url(#stip)" stroke="#222" stroke-width="1" stroke-dasharray="1.2,0.8"/>
<rect x="320.5" y="297" width="13.5" height="15.5" fill="#000"/>
<text x="340.5" y="265.8" style="font-size:9px;stroke:#111;stroke-width:0.5px" textLength="72.6" lengthAdjust="spacingAndGlyphs">Decitabine control</text>
<text x="340.5" y="285.8" style="font-size:9px;stroke:#111;stroke-width:0.5px" textLength="60.6" lengthAdjust="spacingAndGlyphs">Decitabine 100</text>
<text x="340.5" y="305.9" style="font-size:9px;stroke:#111;stroke-width:0.5px" textLength="67.6" lengthAdjust="spacingAndGlyphs">Decitabine 1,000</text>
<text x="403" y="285.8" style="font-size:8.9px;stroke-width:0.1px">nmol/L</text>
<text x="410" y="305.9" style="font-size:8.9px;stroke-width:0.1px">nmol/L</text>
<g stroke="#222" stroke-width="1.1" fill="none">
<path d="M13.7,409.8 H507 V495 H72.6"/>
<path d="M13.7,409.8 V466.3 H507"/>
<path d="M13.7,438.3 H507"/>
<path d="M72.6,409.8 V495"/>
<path d="M202.5,409.8 V495"/>
<path d="M376.4,409.8 V495"/>
</g>
<text x="43" y="428.5" class="t10" text-anchor="middle" >Cell line</text>
<text x="43" y="456.3" class="t10" text-anchor="middle" >% methyl.</text>
<text x="93.8" y="428.5" class="t10" text-anchor="middle" >A549</text>
<text x="93.8" y="456.3" class="t10" text-anchor="middle" >8%</text>
<text x="137" y="428.5" class="t10" text-anchor="middle" >H157</text>
<text x="137" y="456.3" class="t10" text-anchor="middle" >16%</text>
<text x="180.4" y="428.5" class="t10" text-anchor="middle" >H460</text>
<text x="180.4" y="456.3" class="t10" text-anchor="middle" >8%</text>
<text x="224.4" y="428.5" class="t10" text-anchor="middle" >H1299</text>
<text x="224.4" y="456.3" class="t10" text-anchor="middle" >87%</text>
<text x="267.7" y="428.5" class="t10" text-anchor="middle" >H2347</text>
<text x="267.7" y="456.3" class="t10" text-anchor="middle" >94%</text>
<text x="311.2" y="428.5" class="t10" text-anchor="middle" >H1819</text>
<text x="311.2" y="456.3" class="t10" text-anchor="middle" >94%</text>
<text x="354.6" y="428.5" class="t10" text-anchor="middle" >H1993</text>
<text x="354.6" y="456.3" class="t10" text-anchor="middle" >94%</text>
<text x="397.7" y="428.5" class="t10" text-anchor="middle" >HBEC2</text>
<text x="397.7" y="456.3" class="t10" text-anchor="middle" >NA</text>
<text x="441.2" y="428.5" class="t10" text-anchor="middle" >HBEC3</text>
<text x="441.2" y="456.3" class="t10" text-anchor="middle" >NA</text>
<text x="484.6" y="428.5" class="t10" text-anchor="middle" >HBEC4</text>
<text x="484.6" y="456.3" class="t10" text-anchor="middle" >NA</text>
<text x="137" y="478" class="t10" text-anchor="middle" >CXCR2/CXCR2 ligands</text>
<text x="137" y="490.8" class="t10" text-anchor="middle" >cluster</text>
<text x="289.3" y="483.8" class="t10" text-anchor="middle" >Other cell lines</text>
<text x="441.2" y="478" class="t10" text-anchor="middle" >Immortalized bronchial</text>
<text x="441.2" y="490.8" class="t10" text-anchor="middle" >epithelial cell lines</text>
</svg></body></html>
